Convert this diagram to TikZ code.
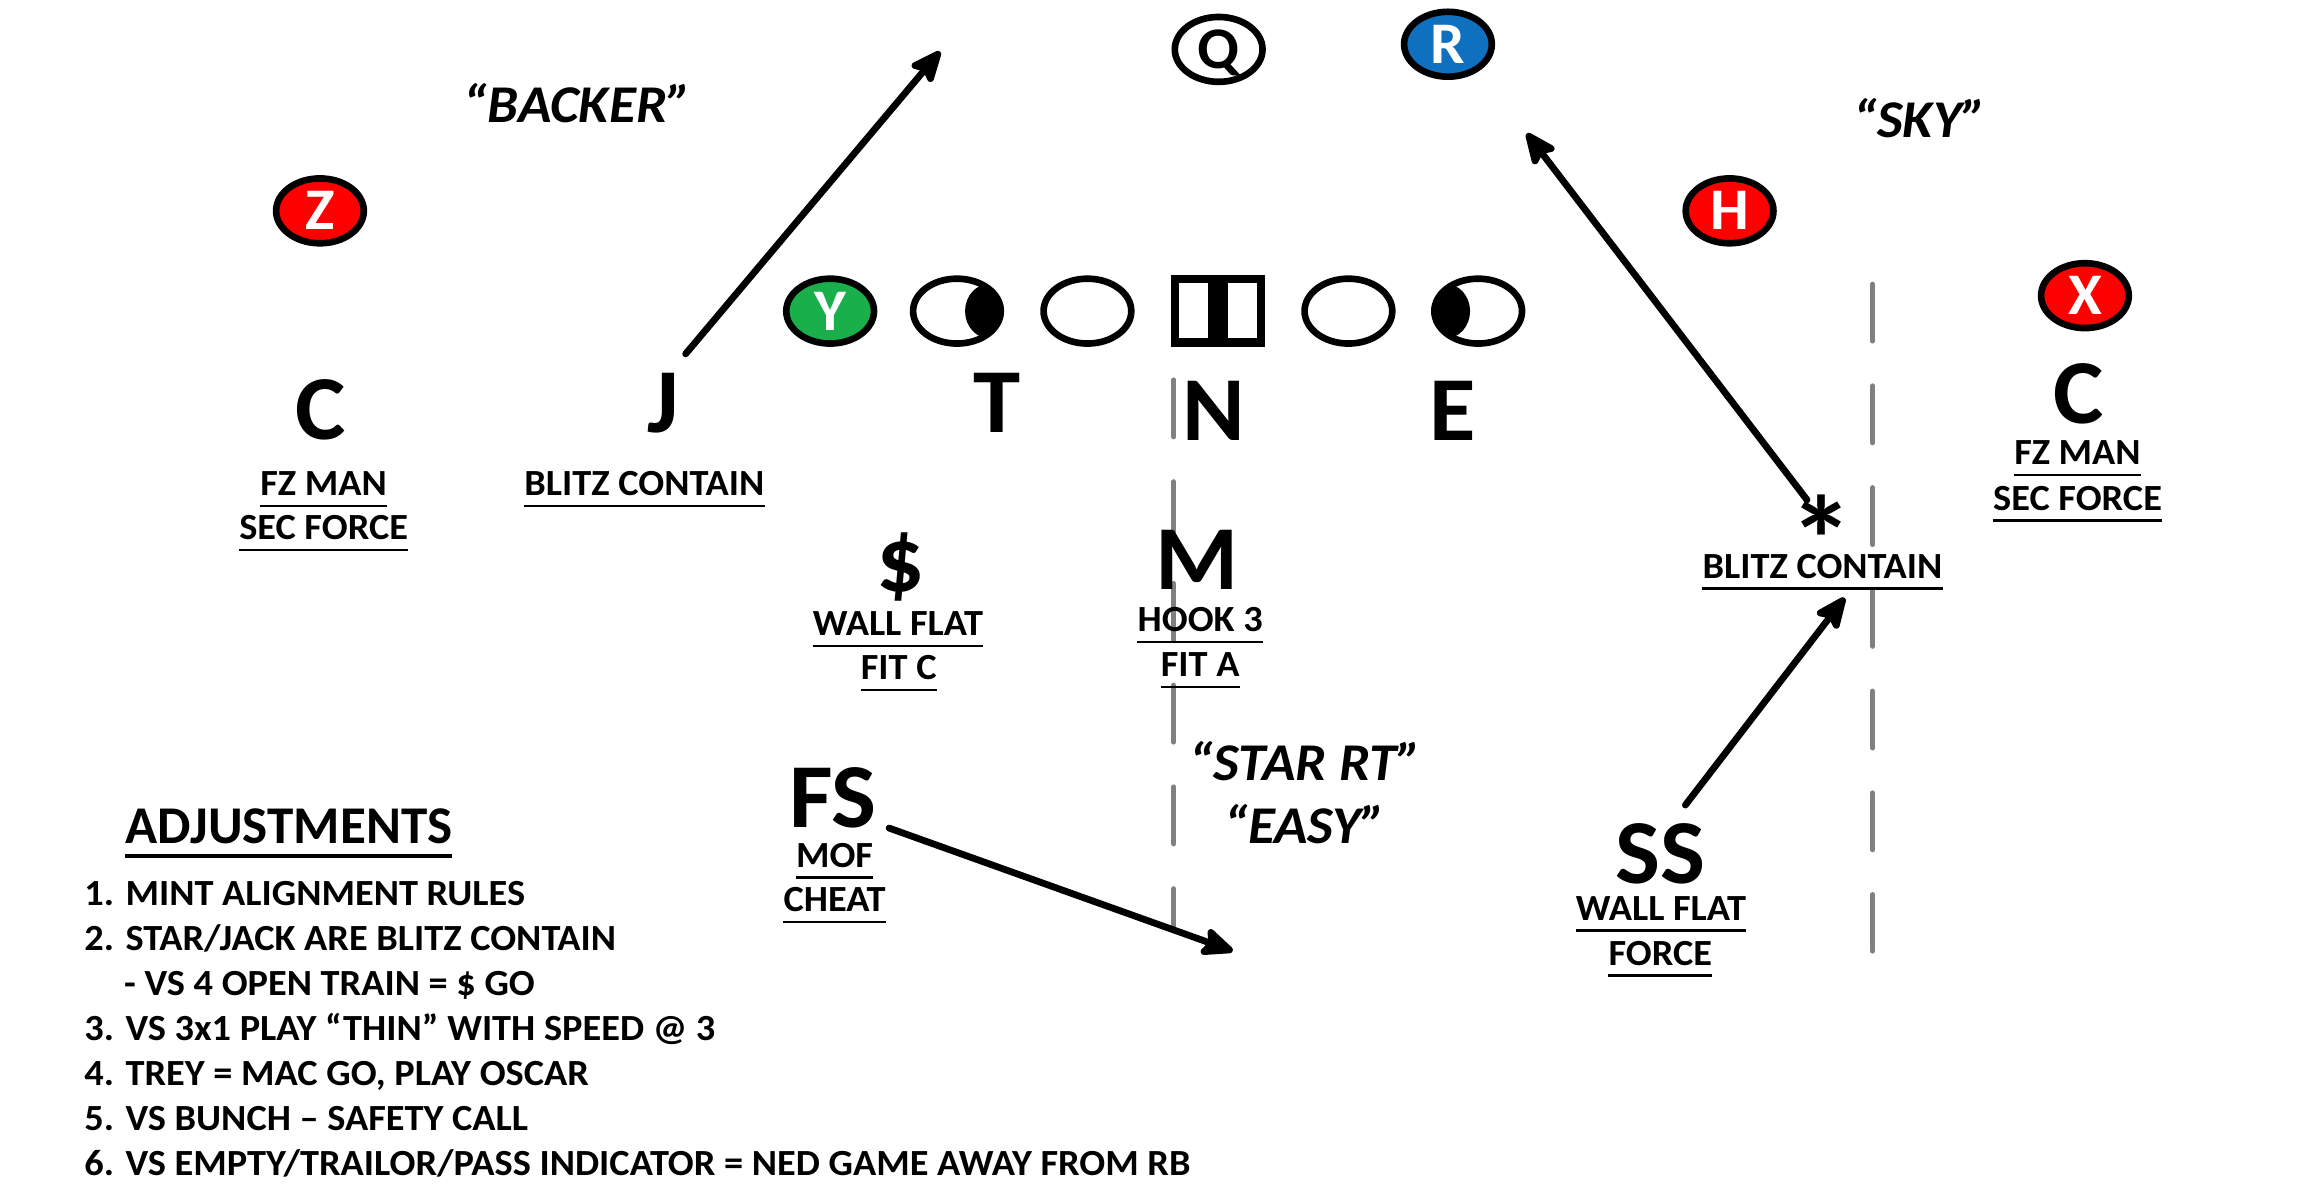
\documentclass[tikz,border=0pt]{standalone}
\usepackage{fontspec}
\setmainfont{Carlito}[FakeStretch=1.04]
\newfontfamily\headfont{Carlito}
\usetikzlibrary{arrows.meta,shapes.geometric}
\definecolor{pred}{RGB}{255,0,0}
\definecolor{pblue}{RGB}{16,112,192}
\definecolor{pgreen}{RGB}{25,175,75}
\definecolor{dgray}{RGB}{128,128,128}
\newcommand\ULabel[4]{\node[lab] (#1) at (#2,#3) {#4};
  \draw[ul] ([yshift=-7pt]#1.base west) -- ([yshift=-7pt]#1.base east);}
\newcommand\PL[1]{\vphantom{H}\smash{#1}}
\begin{document}
\begin{tikzpicture}[x=1pt,y=-1pt,
  every node/.style={inner sep=0pt},
  player/.style={ellipse, draw=black, line width=4.5pt, minimum width=59.5pt, minimum height=44pt, inner sep=0pt, font=\fontsize{40}{40}\selectfont\bfseries, text=white},
  oline/.style={player, fill=white},
  big/.style={font=\fontsize{62}{62}\selectfont\bfseries, anchor=base},
  lab/.style={font=\fontsize{25}{25}\selectfont\bfseries, anchor=base},
  ul/.style={line width=1.6pt},
  callq/.style={font=\fontsize{36}{36}\selectfont\bfseries\itshape, anchor=base},
  listitem/.style={font=\fontsize{25}{25}\selectfont\bfseries, anchor=base west},
  fieldline/.style={draw=dgray, line width=3.5pt, line cap=round, dash pattern=on 38.5pt off 30.5pt},
  route/.style={line width=4.6pt, line cap=round, -{Stealth[length=26pt,width=22pt,inset=5pt,round]}}
]
\fill[white] (0,0) rectangle (1568,811);
\useasboundingbox (0,0) rectangle (1568,811);

% field lines
\coordinate (fl1a) at (796,257.75);
\coordinate (fl1b) at (796,628.25);
\coordinate (fl2a) at (1270,192.75);
\coordinate (fl2b) at (1270,645);
\draw[fieldline] (fl1a) -- (fl1b);
\draw[fieldline] (fl2a) -- (fl2b);

% offense
\node[player, fill=white, text=black] (qq) at (826.5,33.5) {\PL{Q}};
\node[player, fill=pblue] (rr) at (982,30) {\PL{R}};
\node[player, fill=pred] (zz) at (217,143) {\PL{Z}};
\node[player, fill=pred] (hh) at (1173,143) {\PL{H}};
\node[player, fill=pred] (xx) at (1414,200.5) {\PL{X}};
\node[player, fill=pgreen] (yy) at (563,211) {\PL{Y}};
\node[oline] (ol1) at (649,211) {};
\node[oline] (ol2) at (737.5,211) {};
\node[oline] (ol3) at (914.5,211) {};
\node[oline] (ol4) at (1002.5,211) {};
\begin{scope}
  \clip (ol1.center) ellipse [x radius=29.75pt, y radius=22pt];
  \fill ([xshift=22pt]ol1.center) ellipse [x radius=16.5pt, y radius=18.5pt];
\end{scope}
\begin{scope}
  \clip (ol4.center) ellipse [x radius=29.75pt, y radius=22pt];
  \fill ([xshift=-22pt]ol4.center) ellipse [x radius=16.5pt, y radius=18.5pt];
\end{scope}
\node[draw=black, line width=5.5pt, fill=white, minimum width=58.5pt, minimum height=43pt] (ctr) at (826,210.75) {};
\fill (819,189.25) rectangle (833,232.25);

% calls
\node[callq] (backer) at (391.5,83) {“BACKER”};
\node[callq] (sky) at (1302,93.5) {“SKY”};
\node[callq] (star) at (885.5,529) {“STAR RT”};
\node[callq] (easy) at (885,572) {“EASY”};

% defense
\node[big] (cL) at (217.5,298) {C};
\node[big] (jj) at (449.5,293) {J};
\node[big] (tt) at (676,293) {T};
\node[big] (nn) at (823.5,298.5) {N};
\node[big] (ee) at (985.5,298.5) {E};
\node[big] (cR) at (1410,287) {C};
\node[big] (dol) at (611,401) {\$};
\node[big] (mm) at (812,400) {M};
\node[big] (fs) at (565,561) {FS};
\node[big] (ss) at (1126,599) {SS};
\node[font=\fontsize{84}{84}\selectfont\bfseries, anchor=base] (ast) at (1235.5,349) {\raisebox{-47pt}[0pt][0pt]{*}};

% assignments
\ULabel{fzL}{219.5}{336}{FZ MAN}
\ULabel{secL}{219.5}{366}{SEC FORCE}
\ULabel{blL}{437}{336}{BLITZ CONTAIN}
\ULabel{wf1}{609}{431}{WALL FLAT}
\ULabel{fitc}{609.5}{461}{FIT C}
\ULabel{hook}{814}{428.6}{HOOK 3}
\ULabel{fita}{814}{459}{FIT A}
\ULabel{fzR}{1409}{315}{FZ MAN}
\ULabel{secR}{1409}{346}{SEC FORCE}
\ULabel{blR}{1236}{392}{BLITZ CONTAIN}
\ULabel{mof}{566}{588}{MOF}
\ULabel{cheat}{566}{618.5}{CHEAT}
\ULabel{wf2}{1126.5}{624}{WALL FLAT}
\ULabel{force}{1126}{654.5}{FORCE}

% routes
\coordinate (jA) at (465,240);
\coordinate (jB) at (637.5,35);
\coordinate (aA) at (1225.5,339);
\coordinate (aB) at (1035.5,90.5);
\coordinate (fA) at (603,561.6);
\coordinate (fB) at (836,645);
\coordinate (sA) at (1143,546);
\coordinate (sB) at (1251,405.5);
\draw[route] (jA) -- (jB);
\draw[route] (aA) -- (aB);
\draw[route] (fA) -- (fB);
\draw[route] (sA) -- (sB);

% adjustments
\node[font=\fontsize{36}{36}\selectfont\headfont\bfseries, anchor=base west] (adj) at (85,572) {ADJUSTMENTS};
\draw[line width=2.3pt] ([yshift=-8.5pt]adj.base west) -- ([yshift=-8.5pt]adj.base east);
\node[listitem] (i1) at (57,614) {1. MINT ALIGNMENT RULES};
\node[listitem] (i2) at (57,644.5) {2. STAR/JACK ARE BLITZ CONTAIN};
\node[listitem] (i2b) at (84,675) {- VS 4 OPEN TRAIN = \$ GO};
\node[listitem] (i3) at (57,705.5) {3. VS 3x1 PLAY “THIN” WITH SPEED @ 3};
\node[listitem] (i4) at (57,736) {4. TREY = MAC GO, PLAY OSCAR};
\node[listitem] (i5) at (57,766.5) {5. VS BUNCH – SAFETY CALL};
\node[listitem] (i6) at (57,797) {6. VS EMPTY/TRAILOR/PASS INDICATOR = NED GAME AWAY FROM RB};
\end{tikzpicture}
\end{document}
